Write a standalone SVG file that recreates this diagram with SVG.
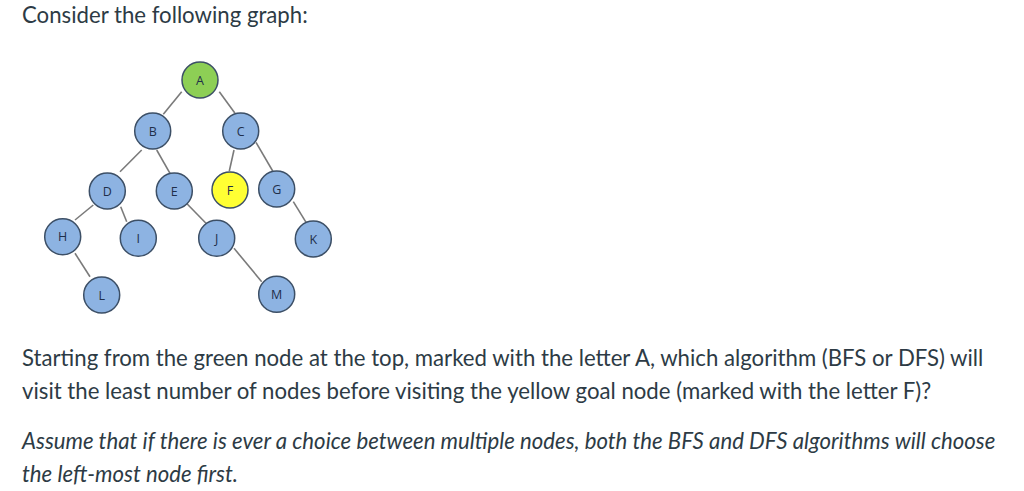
<svg xmlns="http://www.w3.org/2000/svg" width="1024" height="491" viewBox="0 0 1024 491">
<style>
.t{font-family:Lato,"Noto Sans",sans-serif;font-size:22.2px;fill:#2d3b45}
.i{font-style:italic}
.n circle{fill:#8db3e2;stroke:#3c4f66;stroke-width:1.5}
.n text{font-family:"Open Sans","Liberation Sans",sans-serif;font-size:12.5px;fill:#1f2f4a;text-anchor:middle}
#edges line{stroke:#7a7a7a;stroke-width:1.6}
</style>
<rect width="1024" height="491" fill="#fff"/>
<text class="t" x="22" y="23">Consider the following graph:</text>
<g id="edges">
<line x1="181.7" y1="91.7" x2="163.3" y2="114.3"/>
<line x1="219.3" y1="91.7" x2="235" y2="113.3"/>
<line x1="141.7" y1="150" x2="120" y2="171.7"/>
<line x1="156.7" y1="150" x2="170" y2="173.3"/>
<line x1="234" y1="150" x2="229.3" y2="171"/>
<line x1="256" y1="142.3" x2="272.7" y2="171"/>
<line x1="93.3" y1="205" x2="75" y2="220"/>
<line x1="120.7" y1="206.7" x2="126.7" y2="221.7"/>
<line x1="183.3" y1="200" x2="206" y2="223.3"/>
<line x1="293.3" y1="201.7" x2="306.7" y2="223.3"/>
<line x1="75" y1="253.3" x2="90" y2="276.7"/>
<line x1="234" y1="248.3" x2="261.7" y2="281.7"/>
</g>
<g id="A" class="n"><circle cx="200" cy="80" r="18" style="fill:#8dcf55"/><text x="200" y="84.5">A</text></g>
<g id="B" class="n"><circle cx="152.7" cy="131" r="18"/><text x="152.7" y="135.5">B</text></g>
<g id="C" class="n"><circle cx="240.7" cy="131" r="18"/><text x="240.7" y="135.5">C</text></g>
<g id="D" class="n"><circle cx="107.3" cy="191" r="18"/><text x="107.3" y="195.5">D</text></g>
<g id="E" class="n"><circle cx="174.3" cy="191" r="18"/><text x="174.3" y="195.5">E</text></g>
<g id="F" class="n"><circle cx="230" cy="190" r="18" style="fill:#ffff33"/><text x="230" y="194.5">F</text></g>
<g id="G" class="n"><circle cx="276.7" cy="189" r="18"/><text x="276.7" y="193.5">G</text></g>
<g id="H" class="n"><circle cx="62.7" cy="236.7" r="18"/><text x="62.7" y="241.2">H</text></g>
<g id="I" class="n"><circle cx="138.3" cy="238.3" r="18"/><text x="138.3" y="242.8">I</text></g>
<g id="J" class="n"><circle cx="216.7" cy="238.3" r="18"/><text x="216.7" y="242.8">J</text></g>
<g id="K" class="n"><circle cx="313.3" cy="239" r="18"/><text x="313.3" y="243.5">K</text></g>
<g id="L" class="n"><circle cx="101.7" cy="295" r="18"/><text x="101.7" y="299.5">L</text></g>
<g id="M" class="n"><circle cx="276.7" cy="294.3" r="18"/><text x="276.7" y="298.8">M</text></g>
<text class="t" x="22" y="366">Starting from the green node at the top, marked with the letter A, which algorithm (BFS or DFS) will</text>
<text class="t" x="22" y="399">visit the least number of nodes before visiting the yellow goal node (marked with the letter F)?</text>
<text class="t i" x="22" y="449">Assume that if there is ever a choice between multiple nodes, both the BFS and DFS algorithms will choose</text>
<text class="t i" x="22" y="482">the left-most node first.</text>
</svg>
